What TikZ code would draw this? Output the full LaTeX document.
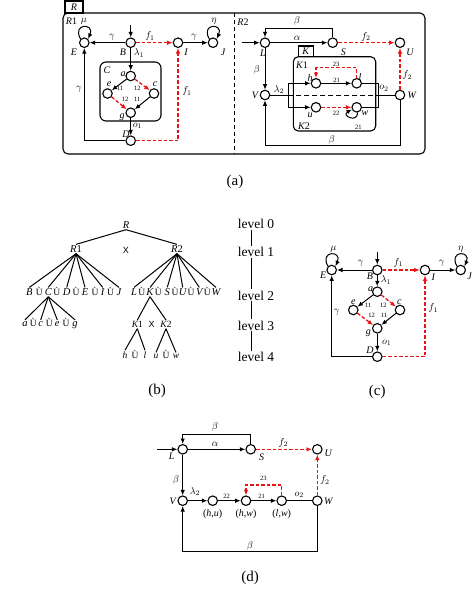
\documentclass[tikz,border=0pt]{standalone}
\usepackage{fontspec}
\setmainfont{Liberation Serif}
\newfontfamily\sansx{Liberation Sans}
\usetikzlibrary{arrows.meta}
\definecolor{myred}{RGB}{235,20,20}
\begin{document}
\begin{tikzpicture}[x=1pt,y=-1pt,
  st/.style={circle,draw,fill=white,line width=1.1pt,minimum size=9.5pt,inner sep=0pt},
  lb/.style={font=\fontsize{10}{10}\selectfont\itshape,inner sep=0pt},
  nm/.style={font=\fontsize{6.5}{6.5}\selectfont,inner sep=0pt},
  ln/.style={line width=1pt},
  ar/.style={ln,-{Latex[length=5.5pt,width=4.5pt]}},
  rd/.style={draw=myred,line width=1.3pt,dash pattern=on 3.5pt off 2pt,-{Latex[length=5.5pt,width=4.5pt]}},
  bx/.style={draw,line width=1.1pt,rounded corners=5pt},
  captxt/.style={font=\fontsize{15}{15}\selectfont,inner sep=0pt},
  tl/.style={font=\fontsize{10.5}{10.5}\selectfont\itshape,inner sep=1pt,anchor=base},
  ts/.style={font=\fontsize{9.5}{9.5}\selectfont\itshape,inner sep=1pt,anchor=base},
  tu/.style={font=\fontsize{9.5}{9.5}\selectfont,inner sep=0pt,anchor=base},
  tx/.style={font=\sansx\fontsize{9}{9}\selectfont,inner sep=0pt},
  lv/.style={font=\fontsize{13.5}{13.5}\selectfont,inner sep=1pt,anchor=base},
  pl/.style={font=\fontsize{10}{10}\selectfont,inner sep=0pt},
]
\useasboundingbox (0,0) rectangle (474,614);

% ================= (a) =================
\draw[bx] (63,13) rectangle (425,154);
\node[draw,line width=1.1pt,minimum width=18pt,minimum height=12pt,inner sep=0pt,font=\fontsize{10}{10}\selectfont\itshape] (aRt) at (74,7) {R};
\draw[line width=0.9pt,dash pattern=on 4pt off 3pt] (234,13) -- (234,154);

% R1
\node[lb] (aR1) at (71.5,21) {R\upshape 1};
\draw[bx,rounded corners=6pt] (100,62) rectangle (161,121);
\node[st] (aE) at (84.3,42.7) {};
\node[st] (aB) at (130.7,42.7) {};
\node[st] (aI) at (178,42.7) {};
\node[st] (aJ) at (213,42.7) {};
\node[st] (aa) at (130.7,76) {};
\node[st] (ae) at (107.5,93.5) {};
\node[st] (ac) at (154,93.5) {};
\node[st] (ag) at (130.7,112.7) {};
\node[st] (aD) at (130.7,140.7) {};
\coordinate (aBin) at (130.7,25);
\draw[ar] (aBin) -- (aB);
\draw[ar] (aB) -- (aE);
\draw[rd] (aB) -- (aI);
\draw[ar] (aI) -- (aJ);
\draw[ar] (aB) -- (aa);
\draw[ar] (aa) -- (ae);
\draw[rd] (aa) -- (ac);
\draw[rd] (ae) -- (ag);
\draw[ar] (ac) -- (ag);
\draw[ar] (ag) -- (aD);
\draw[ar] (aD) -| (aE);
\draw[rd] (aD) -| (aI);
\draw[ar] (aE.135) .. controls +(-9,-16) and +(7,-16) .. (aE.45);
\draw[ar] (aJ.135) .. controls +(-9,-16) and +(7,-16) .. (aJ.45);
\node[lb] (aMu) at (84,21) {$\mu$};
\node[lb] (aEta) at (214,21) {$\eta$};
\node[lb] (aLE) at (74,52) {E};
\node[lb] (aLB) at (123,52) {B};
\node[lb] (aLI) at (186,52) {I};
\node[lb] (aLJ) at (223,52) {J};
\node[lb] (aG1) at (112,37) {$\gamma$};
\node[lb] (aF1) at (150,36) {$f_1$};
\node[lb] (aG2) at (194,37) {$\gamma$};
\node[lb] (aLam) at (139,53) {$\lambda_1$};
\node[lb] (aLC) at (107,70) {C};
\node[lb] (aLa) at (123,74) {a};
\node[lb] (aLe) at (109,84) {e};
\node[lb] (aLc) at (155,84) {c};
\node[lb] (aLg) at (122,117) {g};
\node[lb] (aLD) at (126,134) {D};
\node[lb] (aO1) at (137.5,126) {$o_1$};
\node[lb] (aG3) at (79,89) {$\gamma$};
\node[lb] (aF2) at (187,91) {$f_1$};
\node[nm] (an1) at (120,88.7) {11};
\node[nm] (an2) at (137.3,88.7) {12};
\node[nm] (an3) at (125,99.3) {12};
\node[nm] (an4) at (137.3,99.3) {11};

% R2
\node[lb] (aR2) at (243,22) {R\upshape 2};
\draw[bx] (293.3,56.7) rectangle (375.7,131);
\node[draw,fill=white,line width=1.1pt,minimum width=15pt,minimum height=10.7pt,inner sep=0pt,font=\fontsize{10}{10}\selectfont\itshape] (aKt) at (305.8,51.35) {K};
\node[st] (aL) at (265,42.7) {};
\node[st] (aS) at (332.7,42.7) {};
\node[st] (aU) at (400,42.7) {};
\node[st] (aV) at (265,95) {};
\node[st] (aW) at (400,95) {};
\node[st] (ah) at (316,83.3) {};
\node[st] (al) at (356.7,83.3) {};
\node[st] (au) at (316,107.3) {};
\node[st] (aw) at (356.7,107.3) {};
\coordinate (aLin) at (241.7,42.7);
\draw[ar] (aLin) -- (aL);
\draw[ar] (aL) -- (aS);
\coordinate (aStop) at (332.7,28.3);
\draw[ar] (aS) -- (aStop) -| (aL);
\draw[rd] (aS) -- (aU);
\draw[ar] (aL) -- (aV);
\coordinate (aB1) at (288.3,95);
\coordinate (aB1t) at (288.3,83.3);
\coordinate (aB1b) at (288.3,107.3);
\coordinate (aB2) at (378.3,95);
\coordinate (aB2t) at (378.3,83.3);
\coordinate (aB2b) at (378.3,107.3);
\draw[ln] (aV) -- (aB1);
\draw[ln] (aB1t) -- (aB1b);
\draw[ar] (aB1t) -- (ah);
\draw[ar] (aB1b) -- (au);
\draw[ar] (ah) -- (al);
\draw[rd] (au) -- (aw);
\draw[ln] (al) -- (aB2t) -- (aB2b) -- (aw);
\draw[ln] (aB2) -- (aW);
\draw[ln,dash pattern=on 5pt off 3pt] (aB1) -- (aB2);
\coordinate (a23r) at (356.7,67.7);
\coordinate (a23l) at (316,67.7);
\draw[rd] (al) -- (a23r) -- (a23l) -- (ah);
\draw[ar] (aw.-80) .. controls +(0,11) and +(-11,6) .. (aw.205);
\draw[rd] (aW) -- (aU);
\coordinate (aWb) at (400,145);
\draw[ar] (aW) -- (aWb) -| (aV);
\node[lb] (aBe1) at (297,20.7) {$\beta$};
\node[lb] (aAl) at (297,38.5) {$\alpha$};
\node[lb] (aF3) at (366,36.5) {$f_2$};
\node[lb] (aLL) at (263,53.3) {L};
\node[lb] (aLS) at (343.3,52.7) {S};
\node[lb] (aLU) at (410,52.7) {U};
\node[lb] (aBe2) at (256.7,70) {$\beta$};
\node[lb] (aLV) at (255,95.5) {V};
\node[lb] (aLam2) at (279,89.3) {$\lambda_2$};
\node[lb] (aK1) at (302,65) {K\upshape 1};
\node[lb] (aLh) at (310,78.3) {h};
\node[lb] (aLl) at (360,77.3) {l};
\node[nm] (an5) at (336.7,80) {21};
\node[nm] (an6) at (336,64.5) {23};
\node[lb] (aLu) at (310,115) {u};
\node[nm] (an7) at (336,113.3) {22};
\node[lb] (aLw) at (365,113.3) {w};
\node[nm] (an8) at (358.3,127.7) {21};
\node[lb] (aK2) at (304,126.5) {K\upshape 2};
\node[lb] (aO2) at (384,88.3) {$o_2$};
\node[lb] (aLW) at (411.7,95.5) {W};
\node[lb] (aF4) at (407.3,75) {$f_2$};
\node[lb] (aBe3) at (331.7,140) {$\beta$};
\node[captxt] (capa) at (235,182) {(a)};

% ================= (b) =================
\node[tl] (tR) at (126,228.5) {R};
\node[tl] (tR1) at (76,252.5) {R\upshape 1};
\node[tx] (tX1) at (126,250) {X};
\node[tl] (tR2) at (177,252.5) {R\upshape 2};
\draw[ln] (tR.south) -- (tR1.north);
\draw[ln] (tR.south) -- (tR2.north);
\node[tl] (tB) at (29.3,295.5) {B};
\node[tu] (tu1) at (39.3,295.5) {Ù};
\node[tl] (tC) at (48.3,295.5) {C};
\node[tu] (tu2) at (56.7,295.5) {Ù};
\node[tl] (tD) at (66.7,295.5) {D};
\node[tu] (tu3) at (76,295.5) {Ù};
\node[tl] (tE) at (85,295.5) {E};
\node[tu] (tu4) at (95,295.5) {Ù};
\node[tl] (tI) at (102.7,295.5) {I};
\node[tu] (tu5) at (110.5,295.5) {Ù};
\node[tl] (tJ) at (119,295.5) {J};
\foreach \n in {tB,tC,tD,tE,tI,tJ} \draw[ln] (tR1.south) -- (\n.north);
\node[tl] (tL) at (134,295.5) {L};
\node[tu] (tu6) at (141.7,295.5) {Ù};
\node[tl] (tK) at (150,295.5) {K};
\node[tu] (tu7) at (158.3,295.5) {Ù};
\node[tl] (tS) at (167.3,295.5) {S};
\node[tu] (tu8) at (175,295.5) {Ù};
\node[tl] (tU) at (182.7,295.5) {U};
\node[tu] (tu9) at (191,295.5) {Ù};
\node[tl] (tV) at (199.3,295.5) {V};
\node[tu] (tu10) at (207.3,295.5) {Ù};
\node[tl] (tW) at (216,295.5) {W};
\foreach \n in {tL,tK,tS,tU,tV,tW} \draw[ln] (tR2.south) -- (\n.north);
\node[tl] (ta) at (25,326) {a};
\node[tu] (tu11) at (33.3,326) {Ù};
\node[tl] (tc) at (40.7,326) {c};
\node[tu] (tu12) at (49.3,326) {Ù};
\node[tl] (te) at (57.3,326) {e};
\node[tu] (tu13) at (66,326) {Ù};
\node[tl] (tg) at (75,326) {g};
\foreach \n in {ta,tc,te,tg} \draw[ln] (tC.south) -- (\n.north);
\node[ts] (tK1) at (137.3,327.5) {K\upshape 1};
\node[tx] (tX2) at (151.7,324) {X};
\node[ts] (tK2) at (166,327.5) {K\upshape 2};
\draw[ln] (tK.south) -- (tK1.north);
\draw[ln] (tK.south) -- (tK2.north);
\node[ts] (th) at (125,358) {h};
\node[tu] (tu14) at (135,358) {Ù};
\node[ts] (tl) at (145,358) {l};
\node[ts] (tuu) at (156,358) {u};
\node[tu] (tu15) at (166,358) {Ù};
\node[ts] (tw) at (176,358) {w};
\draw[ln] (tK1.south) -- (th.north);
\draw[ln] (tK1.south) -- (tl.north);
\draw[ln] (tK2.south) -- (tuu.north);
\draw[ln] (tK2.south) -- (tw.north);
\node[lv] (lv0) at (256,228.3) {level 0};
\node[lv] (lv1) at (256,256.7) {level 1};
\node[lv] (lv2) at (256,300) {level 2};
\node[lv] (lv3) at (256,330) {level 3};
\node[lv] (lv4) at (256,361.7) {level 4};
\draw[ln] ([xshift=-5pt]lv0.south) -- ([xshift=-5pt]lv1.north);
\draw[ln] ([xshift=-5pt]lv1.south) -- ([xshift=-5pt]lv2.north);
\draw[ln] ([xshift=-5pt]lv2.south) -- ([xshift=-5pt]lv3.north);
\draw[ln] ([xshift=-5pt]lv3.south) -- ([xshift=-5pt]lv4.north);
\node[captxt] (capb) at (157,391) {(b)};

% ================= (c) =================
\node[st] (cE) at (331.7,270) {};
\node[st] (cB) at (377.3,270) {};
\node[st] (cI) at (425,270) {};
\node[st] (cJ) at (460.7,270) {};
\node[st] (ca) at (377.3,291.7) {};
\node[st] (ce) at (353.3,310) {};
\node[st] (cc) at (400,310) {};
\node[st] (cg) at (377.3,328.3) {};
\node[st] (cD) at (377.3,356.7) {};
\coordinate (cBin) at (377.3,251.7);
\draw[ar] (cBin) -- (cB);
\draw[ar] (cB) -- (cE);
\draw[rd] (cB) -- (cI);
\draw[ar] (cI) -- (cJ);
\draw[ar] (cB) -- (ca);
\draw[ar] (ca) -- (ce);
\draw[rd] (ca) -- (cc);
\draw[rd] (ce) -- (cg);
\draw[ar] (cc) -- (cg);
\draw[ar] (cg) -- (cD);
\draw[ar] (cD) -| (cE);
\draw[rd] (cD) -| (cI);
\draw[ar] (cE.135) .. controls +(-9,-16) and +(7,-16) .. (cE.45);
\draw[ar] (cJ.135) .. controls +(-9,-16) and +(7,-16) .. (cJ.45);
\node[lb] (cMu) at (333.3,249) {$\mu$};
\node[lb] (cEta) at (460.7,249) {$\eta$};
\node[lb] (cLE) at (323.3,275) {E};
\node[lb] (cLB) at (370,276.5) {B};
\node[lb] (cLam) at (386,280) {$\lambda_1$};
\node[lb] (cG1) at (360.7,263.3) {$\gamma$};
\node[lb] (cF1) at (398.3,262.5) {$f_1$};
\node[lb] (cLI) at (433.3,277.3) {I};
\node[lb] (cG2) at (441.7,263.3) {$\gamma$};
\node[lb] (cLJ) at (469.5,276) {J};
\node[lb] (cLa) at (370.7,289.3) {a};
\node[lb] (cLe) at (353.3,301.7) {e};
\node[lb] (cLc) at (399.3,301.7) {c};
\node[lb] (cLg) at (368.3,333.3) {g};
\node[nm] (cn1) at (368.3,305) {11};
\node[nm] (cn2) at (383.3,305) {12};
\node[nm] (cn3) at (371.7,315) {12};
\node[nm] (cn4) at (384,315) {11};
\node[lb] (cO1) at (386.7,342.7) {$o_1$};
\node[lb] (cLD) at (370,350.7) {D};
\node[lb] (cG3) at (336.7,312.7) {$\gamma$};
\node[lb] (cF2) at (433.3,308.3) {$f_1$};
\node[captxt] (capc) at (377.3,391.7) {(c)};

% ================= (d) =================
\node[st] (dL) at (182.7,449.3) {};
\node[st] (dS) at (250.7,449.3) {};
\node[st] (dU) at (317.3,449.3) {};
\node[st] (dV) at (182.7,500.7) {};
\node[st] (dhu) at (212.7,500.7) {};
\node[st] (dhw) at (246,500.7) {};
\node[st] (dlw) at (281.7,500.7) {};
\node[st] (dW) at (317.3,500.7) {};
\coordinate (dLin) at (157,449.3);
\draw[ar] (dLin) -- (dL);
\draw[ar] (dL) -- (dS);
\coordinate (dStop) at (250.7,434);
\draw[ar] (dS) -- (dStop) -| (dL);
\draw[rd] (dS) -- (dU);
\draw[ar] (dL) -- (dV);
\draw[ar] (dV) -- (dhu);
\draw[ar] (dhu) -- (dhw);
\draw[ar] (dhw) -- (dlw);
\draw[ln] (dlw) -- (dW);
\draw[rd] (dW) -- (dU);
\coordinate (d23r) at (281.7,485);
\coordinate (d23l) at (246,485);
\draw[rd] (dlw) -- (d23r) -- (d23l) -- (dhw);
\coordinate (dWb) at (317.3,551.7);
\draw[ar] (dW) -- (dWb) -| (dV);
\node[lb] (dBe1) at (215,427.3) {$\beta$};
\node[lb] (dAl) at (215,444.5) {$\alpha$};
\node[lb] (dLL) at (171.7,456) {L};
\node[lb] (dLS) at (261.7,457.3) {S};
\node[lb] (dF1) at (283.3,442.5) {$f_2$};
\node[lb] (dLU) at (328.3,453.3) {U};
\node[lb] (dLV) at (172.7,501) {V};
\node[lb] (dBe2) at (176,480) {$\beta$};
\node[lb] (dLam) at (195,491.7) {$\lambda_2$};
\node[nm] (dn1) at (226.7,496) {22};
\node[nm] (dn2) at (261.7,496) {21};
\node[nm] (dn3) at (263.3,478.3) {23};
\node[lb] (dO2) at (299.3,495) {$o_2$};
\node[lb] (dLW) at (328.3,501) {W};
\node[lb] (dF2) at (325,480) {$f_2$};
\node[lb] (dBe3) at (250,546) {$\beta$};
\node[pl] (dLhu) at (212.7,514) {(\textit{h},\textit{u})};
\node[pl] (dLhw) at (246,514) {(\textit{h},\textit{w})};
\node[pl] (dLlw) at (281.7,514) {(\textit{l},\textit{w})};
\node[captxt] (capd) at (250,578) {(d)};
\end{tikzpicture}
\end{document}
